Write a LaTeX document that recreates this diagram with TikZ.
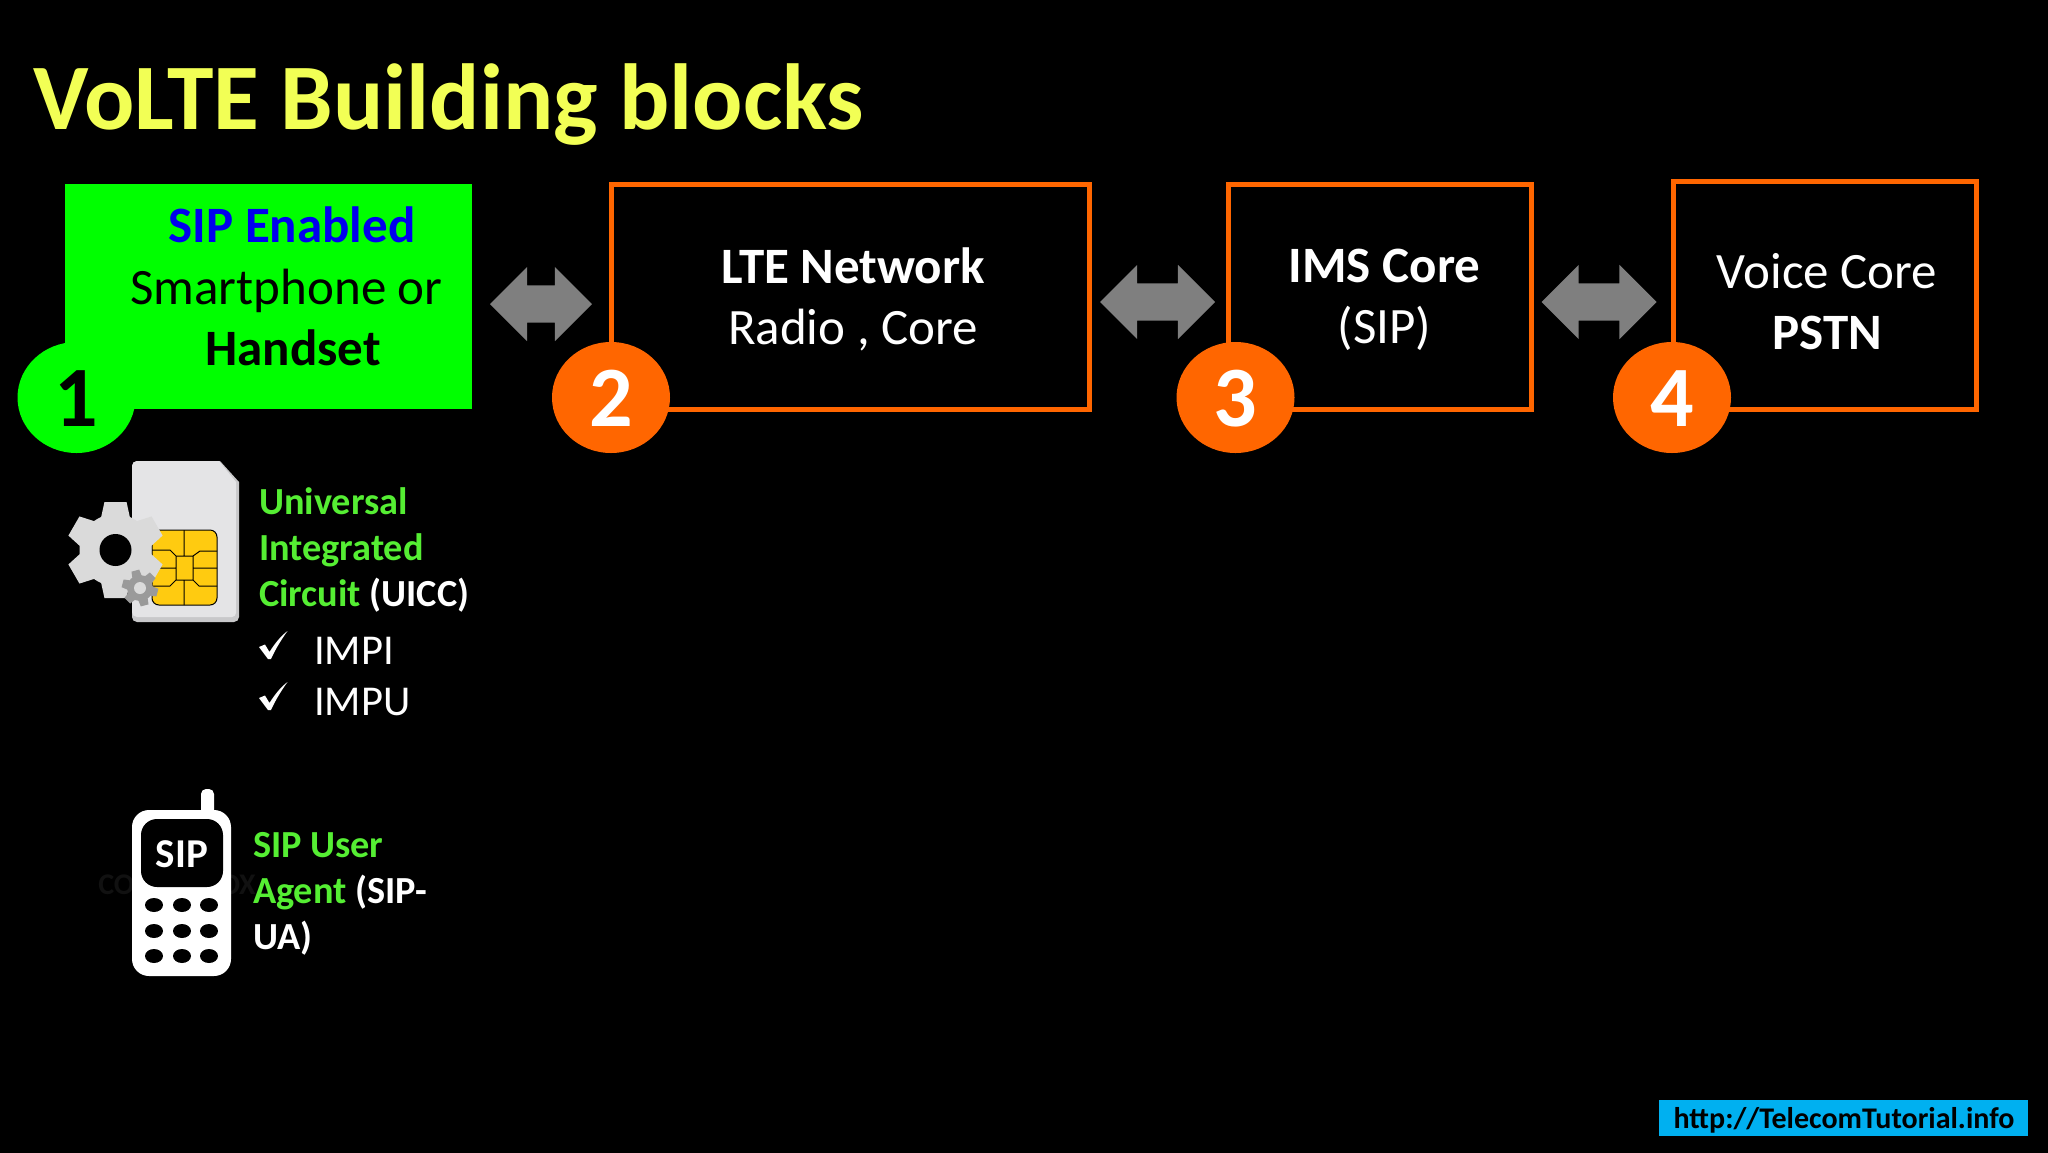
\documentclass[tikz,border=0pt]{standalone}
\usepackage{fontspec}
\setmainfont{Carlito}
\usetikzlibrary{shapes.arrows,shapes.geometric,calc}
\definecolor{titley}{HTML}{F2FF55}
\definecolor{boxgreen}{HTML}{00FF00}
\definecolor{lblgreen}{HTML}{55EE33}
\definecolor{orng}{HTML}{FF6600}
\definecolor{arrowgray}{HTML}{7F7F7F}
\definecolor{simgray}{HTML}{E4E4E6}
\definecolor{simedge}{HTML}{C8C8CA}
\definecolor{gearlight}{HTML}{DADADA}
\definecolor{geardark}{HTML}{9A9A9A}
\definecolor{chipy}{HTML}{FFCB10}
\definecolor{footblue}{HTML}{00B0F0}
\definecolor{wmark}{HTML}{111111}
\newcommand{\fs}[1]{\fontsize{#1}{#1}\selectfont}
\newcommand{\gearshape}[6]{% cx cy outer body rotation colour
  \fill[#6] (#1,#2) circle[radius=#4];
  \foreach \a in {0,60,...,300}{
    \fill[#6,rotate around={\a+#5:(#1,#2)}]
      ($(#1,#2)+(-0.30*#3,-0.68*#3)$) -- ($(#1,#2)+(-0.23*#3,-#3)$) -- ($(#1,#2)+(0.23*#3,-#3)$) -- ($(#1,#2)+(0.30*#3,-0.68*#3)$) -- cycle;
  }
}
\newcommand{\checkmarkat}[1]{%
  \fill[white,shift={(0,#1)}] (259,647) -- (265,644.5) -- (269.5,652) .. controls (275,643) and (281,636) .. (287.5,631) .. controls (281,640) and (275,650) .. (271,659) -- (268,659) -- cycle;}
\tikzset{
  base/.style={inner sep=0pt,outer sep=0pt,anchor=base},
  lbl/.style={base,anchor=base west,font=\fs{38.3}\bfseries,text=lblgreen},
  blockbox/.style={draw=orng,line width=5pt,fill=black},
  boxtext/.style={base,font=\fs{51},text=white},
  boxbold/.style={base,font=\fs{51}\bfseries,text=white},
  numdisc/.style={ellipse,fill=orng,minimum width=118pt,minimum height=111pt,inner sep=0pt},
  numtext/.style={base,font=\fs{86}\bfseries,text=white},
  dblarrow/.style={double arrow,fill=arrowgray,inner xsep=0pt,inner ysep=18.5pt,double arrow head extend=18.5pt,double arrow tip angle=90},
  chipline/.style={draw=black,line width=1pt,line join=round},
  listtext/.style={base,anchor=base west,font=\fs{42.5},text=white},
}
\begin{document}
\begin{tikzpicture}[x=1pt,y=-1pt]
\useasboundingbox (0,0) rectangle (2048,1152);
\fill[black] (-5,-5) rectangle (2053,1157);
\node[base,anchor=base west,font=\fs{93.8}\bfseries,text=titley] (title) at (33,129) {VoLTE Building blocks};

% block 1
\fill[boxgreen] (65,184) rectangle (472,409);
\node[numdisc,fill=boxgreen] (n1) at (76.5,397.5) {};
\node[numtext,text=black] at (76,426.5) {1};
\node[boxbold,text={rgb,255:red,0;green,0;blue,238}] (t1a) at (292,242.5) {SIP Enabled};
\node[boxtext,text=black] (t1b) at (286.5,304) {Smartphone or};
\node[boxbold,text=black] (t1c) at (293,365) {Handset};

% block 2
\draw[blockbox] (611,184) rectangle (1089,409);
\node[numdisc] (n2) at (611,397.5) {};
\node[numtext] at (611,426.5) {2};
\node[boxbold] (t2a) at (853,283.5) {LTE Network};
\node[boxtext] (t2b) at (853,344.5) {Radio , Core};

% block 3
\draw[blockbox] (1228,184) rectangle (1531,409);
\node[numdisc] (n3) at (1235.5,397.5) {};
\node[numtext] at (1235.5,426.5) {3};
\node[boxbold] (t3a) at (1384.5,282.5) {IMS Core};
\node[boxtext] (t3b) at (1384.5,343.5) {(SIP)};

% block 4
\draw[blockbox] (1673,181) rectangle (1976,409);
\node[numdisc] (n4) at (1672,397.5) {};
\node[numtext] at (1672,426.5) {4};
\node[boxtext] (t4a) at (1827,288.5) {Voice Core};
\node[boxbold] (t4b) at (1827,349.5) {PSTN};

% arrows
\node[dblarrow,minimum height=102pt] (a1) at (541,304) {};
\node[dblarrow,minimum height=115pt] (a2) at (1157.5,302) {};
\node[dblarrow,minimum height=115pt] (a3) at (1599,302) {};

% SIM card
\fill[simedge] (132,466) arc[start angle=180,end angle=270,radius=5] -- (220,461) -- (239,482) -- (239,617) arc[start angle=0,end angle=90,radius=5] -- (137,622) arc[start angle=90,end angle=180,radius=5] -- cycle;
\fill[simgray] (132,466) arc[start angle=180,end angle=270,radius=5] -- (219,461) -- (236,482) -- (236,613) arc[start angle=0,end angle=90,radius=4] -- (137,617) arc[start angle=90,end angle=180,radius=5] -- cycle;
\fill[chipy,draw=black,line width=1pt,rounded corners=7pt] (152,530) rectangle (217,605);
\draw[chipline] (184,530) -- (184,556) (184,580) -- (184,605)
  (152,550) -- (170,550) -- (176,556) -- (176,580) -- (170,586) -- (152,586)
  (217,551) -- (200,551) -- (193,556) -- (193,580) -- (199,586) -- (217,586)
  (176,556) -- (193,556) (176,580) -- (193,580)
  (152,568) -- (176,568) (193,568) -- (217,568);
% gears
\gearshape{115.5}{550}{48}{36}{0}{gearlight}
\fill[black] (115.5,550) circle[radius=16];
\fill[geardark] (140,588) circle[radius=13];
\foreach \a in {0,60,...,300}{
  \fill[geardark,rotate around={\a+15:(140,588)}] (135,578) -- (136,570) -- (144,570) -- (145,578) -- cycle;
}
\fill[gearlight] (140,588) circle[radius=6];

% UICC labels and check marks
\node[lbl] (u1) at (259,514.5) {Universal};
\node[lbl] (u2) at (259,560) {Integrated};
\node[lbl] (u3) at (259,606) {Circuit \textcolor{white}{(UICC)}};
\checkmarkat{0}
\checkmarkat{51}
\node[listtext] (i1) at (314,664.5) {IMPI};
\node[listtext] (i2) at (314,715.5) {IMPU};

% watermark
\node[base,font=\fs{30}\bfseries,text=wmark] (wm) at (177,894) {COLOURBOX};

% phone
\fill[white,rounded corners=5pt] (201,815) -- (201,789) -- (214,789) -- (214,815) -- cycle;
\fill[white,rounded corners=17pt] (132,810) rectangle (231,976);
\fill[black,rounded corners=16pt] (141,819) rectangle (223,887);
\node[base,font=\fs{41}\bfseries,text=white] (sip) at (182,867) {SIP};
\foreach \x in {154,182,209}
  \foreach \y in {905,931,956}
    \fill[black] (\x,\y) ellipse[x radius=9,y radius=7];

\node[lbl] (s1) at (253,857.5) {SIP User};
\node[lbl] (s2) at (253,903.5) {Agent \textcolor{white}{(SIP-}};
\node[lbl,text=white] (s3) at (253,949.5) {UA)};

% footer
\fill[footblue] (1659,1100) rectangle (2028,1136);
\node[base,font=\fs{30}\bfseries,text=black] (foot) at (1844,1128) {http://TelecomTutorial.info};
\end{tikzpicture}
\end{document}
